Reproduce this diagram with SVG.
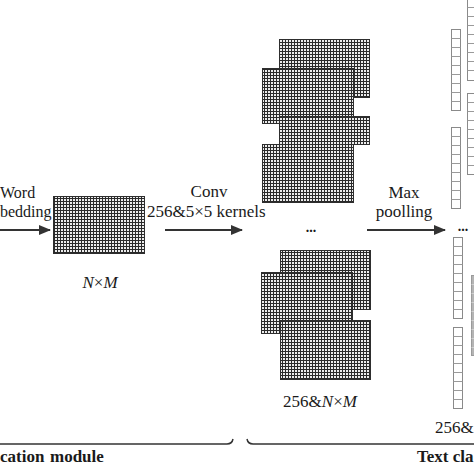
<svg xmlns="http://www.w3.org/2000/svg" width="474" height="474" viewBox="0 0 474 474">
<style>
  text { font-family: "Liberation Serif", "Times New Roman", serif; fill: #1a1a1a; }
  .lbl { font-size: 17px; }
  .sm { font-size: 16px; }
  .it { font-style: italic; }
  .bold { font-size: 17px; font-weight: bold; }
  .dots { font-size: 14px; font-weight: bold; text-anchor: middle; }
  .mat { fill: url(#grid); stroke: #2e2e2e; stroke-width: 1; }
  .cell { fill: #fff; stroke: #8a8a8a; stroke-width: 1; }
  .cellg { fill: #b4b4b4; stroke: #9a9a9a; stroke-width: 1; }
  .arrow { stroke: #333; stroke-width: 2; fill: none; marker-end: url(#ah); }
  .brace { stroke: #333; stroke-width: 1.5; fill: none; }
</style>
<defs>
  <pattern id="grid" patternUnits="userSpaceOnUse" width="3" height="3">
    <rect width="3" height="3" fill="#ececec"/>
    <path d="M0 0.5H3M0.5 0V3" stroke="#2a2a2a" stroke-width="1"/>
  </pattern>
  <marker id="ah" markerWidth="12" markerHeight="10" refX="11" refY="5" orient="auto" markerUnits="userSpaceOnUse">
    <path d="M0 0L12 5L0 10z" fill="#333"/>
  </marker>
</defs>

<g id="connectors">
  <line class="arrow" x1="0" y1="230" x2="50" y2="230"/>
  <line class="arrow" x1="165" y1="230" x2="242" y2="230"/>
  <line class="arrow" x1="367" y1="230" x2="445" y2="230"/>
</g>

<g id="word-embedding-label">
  <text class="sm" x="0" y="198">Word</text>
  <text class="sm" x="0" y="217">bedding</text>
</g>

<g id="embedding-matrix">
  <rect class="mat" x="53.5" y="196.5" width="91" height="57"/>
  <text class="lbl" x="100" y="288" text-anchor="middle"><tspan class="it">N</tspan>×<tspan class="it">M</tspan></text>
</g>

<g id="conv-label">
  <text class="lbl" x="209" y="197" text-anchor="middle">Conv</text>
  <text class="lbl" x="147" y="217">256&amp;5×5 kernels</text>
</g>

<g id="feature-maps-top">
  <rect class="mat" x="279.5" y="39.5" width="90" height="58"/>
  <rect class="mat" x="262.5" y="68.5" width="91" height="55"/>
  <rect class="mat" x="279.5" y="116.5" width="90" height="28"/>
  <rect class="mat" x="262.5" y="144.5" width="91" height="58"/>
</g>

<text class="dots" x="311" y="232">...</text>

<g id="feature-maps-bottom">
  <rect class="mat" x="280.5" y="250.5" width="90" height="59"/>
  <rect class="mat" x="261.5" y="272.5" width="91" height="61"/>
  <rect class="mat" x="280.5" y="320.5" width="90" height="59"/>
  <text class="lbl" x="320" y="407" text-anchor="middle">256&amp;<tspan class="it">N</tspan>×<tspan class="it">M</tspan></text>
</g>

<g id="maxpool-label">
  <text class="lbl" x="404" y="198" text-anchor="middle">Max</text>
  <text class="lbl" x="404" y="217" text-anchor="middle">poolling</text>
</g>

<g id="pooled-vectors">
  <rect class="cell" x="451.5" y="29.5" width="9" height="81"/>
  <path d="M451.5 38.5h9M451.5 47.5h9M451.5 56.5h9M451.5 65.5h9M451.5 74.5h9M451.5 83.5h9M451.5 92.5h9M451.5 101.5h9" stroke="#9a9a9a"/>
  <rect class="cell" x="451.5" y="127.5" width="9" height="81"/>
  <path d="M451.5 136.5h9M451.5 145.5h9M451.5 154.5h9M451.5 163.5h9M451.5 172.5h9M451.5 181.5h9M451.5 190.5h9M451.5 199.5h9" stroke="#9a9a9a"/>
  <rect class="cell" x="467.5" y="-1.5" width="10" height="82"/>
  <path d="M467.5 7.5h10M467.5 16.5h10M467.5 25.5h10M467.5 34.5h10M467.5 43.5h10M467.5 52.5h10M467.5 61.5h10M467.5 70.5h10" stroke="#9a9a9a"/>
  <rect class="cell" x="467.5" y="93.5" width="10" height="81"/>
  <path d="M467.5 102.5h10M467.5 111.5h10M467.5 120.5h10M467.5 129.5h10M467.5 138.5h10M467.5 147.5h10M467.5 156.5h10M467.5 165.5h10" stroke="#9a9a9a"/>
  <text class="dots" x="463" y="231">...</text>
  <rect class="cell" x="453.5" y="237.5" width="9" height="81"/>
  <path d="M453.5 246.5h9M453.5 255.5h9M453.5 264.5h9M453.5 273.5h9M453.5 282.5h9M453.5 291.5h9M453.5 300.5h9M453.5 309.5h9" stroke="#9a9a9a"/>
  <rect class="cell" x="453.5" y="327.5" width="9" height="81"/>
  <path d="M453.5 336.5h9M453.5 345.5h9M453.5 354.5h9M453.5 363.5h9M453.5 372.5h9M453.5 381.5h9M453.5 390.5h9M453.5 399.5h9" stroke="#9a9a9a"/>
  <rect class="cellg" x="471.5" y="275.5" width="8" height="80"/>
  <path d="M471.5 284.5h8M471.5 293.5h8M471.5 302.5h8M471.5 311.5h8M471.5 320.5h8M471.5 329.5h8M471.5 338.5h8M471.5 347.5h8" stroke="#d0d0d0"/>
  <text class="lbl" x="435" y="433">256&amp;</text>
</g>

<g id="braces">
  <path class="brace" d="M0 444H227Q232 444 233 439"/>
  <path class="brace" d="M247 439Q248 444 253 444H474"/>
</g>

<g id="module-labels">
  <text class="bold" x="0" y="462">cation<tspan x="50">module</tspan></text>
  <text class="bold" x="417" y="462">Text cla</text>
</g>
</svg>
